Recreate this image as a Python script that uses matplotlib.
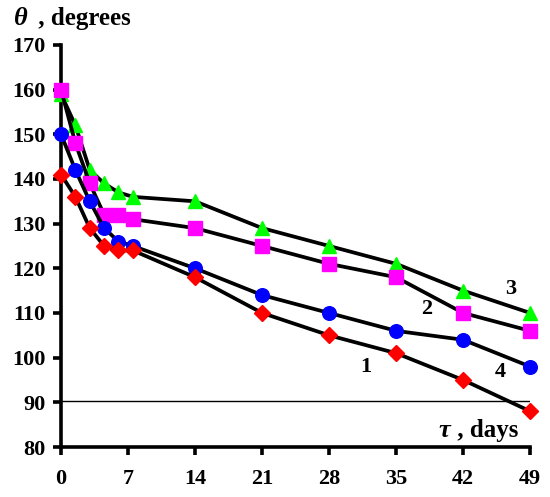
import numpy as np
import matplotlib.pyplot as plt

# days of measurement
days = [0, 1.5, 3, 4.5, 6, 7.5, 14, 21, 28, 35, 42, 49]

# contact angle, degrees (series numbered as in the chart)
theta_1 = [141, 136, 129, 125, 124, 124, 118, 110, 105, 101, 95, 88]
theta_2 = [160, 148, 139, 132, 132, 131, 129, 125, 121, 118, 110, 106]
theta_3 = [159, 152, 142, 139, 137, 136, 135, 129, 125, 121, 115, 110]
theta_4 = [150, 142, 135, 129, 126, 125, 120, 114, 110, 106, 104, 98]

x_ticks = [0, 7, 14, 21, 28, 35, 42, 49]
y_ticks = [80, 90, 100, 110, 120, 130, 140, 150, 160, 170]

serif = "Liberation Serif"

fig = plt.figure(figsize=(5.5, 4.97), dpi=100)
ax = fig.add_axes([0.111, 0.1006, 0.853, 0.8089])

# series: (values, marker, colour, marker size)
series = [
    (theta_3, "^", "#00ff00", 10.5),
    (theta_2, "s", "#ff00ff", 9.5),
    (theta_4, "o", "#0000ff", 9.8),
    (theta_1, "D", "#ff0000", 8.5),
]
for vals, mk, col, ms in series:
    ax.plot(days, vals, color="black", lw=2.7, marker=mk, ms=ms,
            mfc=col, mec=col, clip_on=False, zorder=3)

ax.axhline(90.2, color="black", lw=1)

ax.set_xlim(0, 49)
ax.set_ylim(80, 170)
ax.set_xticks(x_ticks)
ax.set_yticks(y_ticks)

for side in ["top", "right"]:
    ax.spines[side].set_visible(False)
for side in ["left", "bottom"]:
    ax.spines[side].set_linewidth(2.6)

ax.tick_params(direction="out", width=2.6, length=6, pad=5)
ax.tick_params(axis="x", pad=10)
for lab in ax.get_xticklabels() + ax.get_yticklabels():
    lab.set_fontfamily(serif)
    lab.set_fontweight("bold")
    lab.set_fontsize(16)

# series numbers
labels = [("1", 31.8, 98), ("2", 38.2, 111), ("3", 47.0, 115.3), ("4", 45.9, 96.8)]
for txt, xd, yd in labels:
    ax.text(xd, yd, txt, fontfamily=serif, fontweight="bold", fontsize=16,
            ha="center", va="center")

# axis titles
fig.text(0.025, 0.963, "θ", fontfamily=serif, fontweight="bold",
         fontstyle="italic", fontsize=19, va="center", ha="left")
fig.text(0.058, 0.963, " , degrees", fontfamily=serif, fontweight="bold",
         fontsize=18, va="center", ha="left")

ax.text(40.0, 83.6, "τ", fontfamily=serif, fontweight="bold",
        fontstyle="italic", fontsize=19, ha="center", va="center")
ax.text(40.7, 83.6, " , days", fontfamily=serif, fontweight="bold",
        fontsize=18, ha="left", va="center")

fig.savefig("out.png", dpi=100)
